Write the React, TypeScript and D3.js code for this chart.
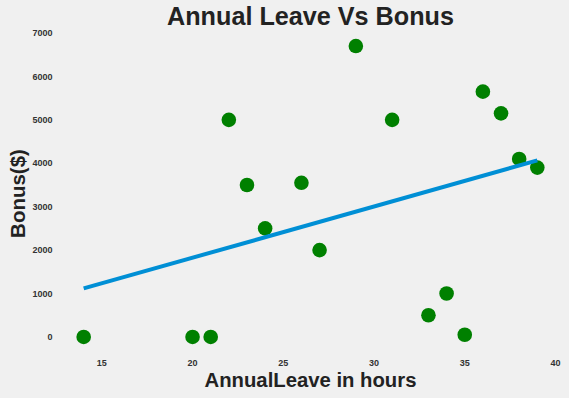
import React from 'react';
import { scaleLinear, extent, mean, line } from 'd3';

const dim = {
  width: 569,
  height: 398,
  left: 61,
  right: 560,
  top: 31.5,
  bottom: 351.5,
};

const leaveHours = [14, 20, 21, 22, 23, 24, 26, 27, 29, 31, 33, 34, 35, 36, 37, 38, 39];
const bonus = [0, 0, 0, 5000, 3500, 2500, 3550, 2000, 6700, 5000, 500, 1000, 50, 5650, 5150, 4100, 3900];
const xTicks = [15, 20, 25, 30, 35, 40];
const yTicks = [0, 1000, 2000, 3000, 4000, 5000, 6000, 7000];

const font = '"Liberation Sans", Arial, sans-serif';

// matplotlib style 5% padding around the data
const padded = (vals: number[]) => {
  const [lo, hi] = extent(vals) as [number, number];
  const m = (hi - lo) * 0.05;
  return [lo - m, hi + m];
};

const App = () => {
  const x = scaleLinear().domain(padded(leaveHours)).range([dim.left, dim.right]);
  const y = scaleLinear().domain(padded(bonus)).range([dim.bottom, dim.top]);

  // least squares fit
  const mx = mean(leaveHours) as number;
  const my = mean(bonus) as number;
  let num = 0;
  let den = 0;
  leaveHours.forEach((v, i) => {
    num += (v - mx) * (bonus[i] - my);
    den += (v - mx) * (v - mx);
  });
  const slope = num / den;
  const icpt = my - slope * mx;
  const [x0, x1] = extent(leaveHours) as [number, number];
  const fit = line<number>()
    .x((d) => x(d))
    .y((d) => y(icpt + slope * d))([x0, x1]);

  const midX = (dim.left + dim.right) / 2;
  const midY = (dim.top + dim.bottom) / 2;

  return (
    <svg
      width={dim.width}
      height={dim.height}
      style={{ position: 'absolute', left: 0, top: 0, background: '#f0f0f0' }}
      fontFamily={font}
    >
      <rect width={dim.width} height={dim.height} fill="#f0f0f0" />
      <text x={midX} y={25} textAnchor="middle" fontSize={25.2} fontWeight="bold" fill="#222">
        Annual Leave Vs Bonus
      </text>

      {yTicks.map((t) => (
        <text key={t} x={52.5} y={y(t)} dy="0.35em" textAnchor="end" fontSize={9} fontWeight="bold" fill="#333">
          {t}
        </text>
      ))}
      {xTicks.map((t) => (
        <text key={t} x={x(t)} y={363} dy="0.35em" textAnchor="middle" fontSize={9} fontWeight="bold" fill="#333">
          {t}
        </text>
      ))}

      <text x={midX} y={387} textAnchor="middle" fontSize={20.3} fontWeight="bold" fill="#222">
        AnnualLeave in hours
      </text>
      <text
        transform={`translate(25,${midY + 2}) rotate(-90)`}
        textAnchor="middle"
        fontSize={20.5}
        fontWeight="bold"
        fill="#222"
      >
        Bonus($)
      </text>

      {leaveHours.map((h, i) => (
        <circle key={i} cx={x(h)} cy={y(bonus[i])} r={7.3} fill="green" />
      ))}
      <path d={fit ?? ''} stroke="#008fd5" strokeWidth={4} fill="none" />
    </svg>
  );
};

export default App;
